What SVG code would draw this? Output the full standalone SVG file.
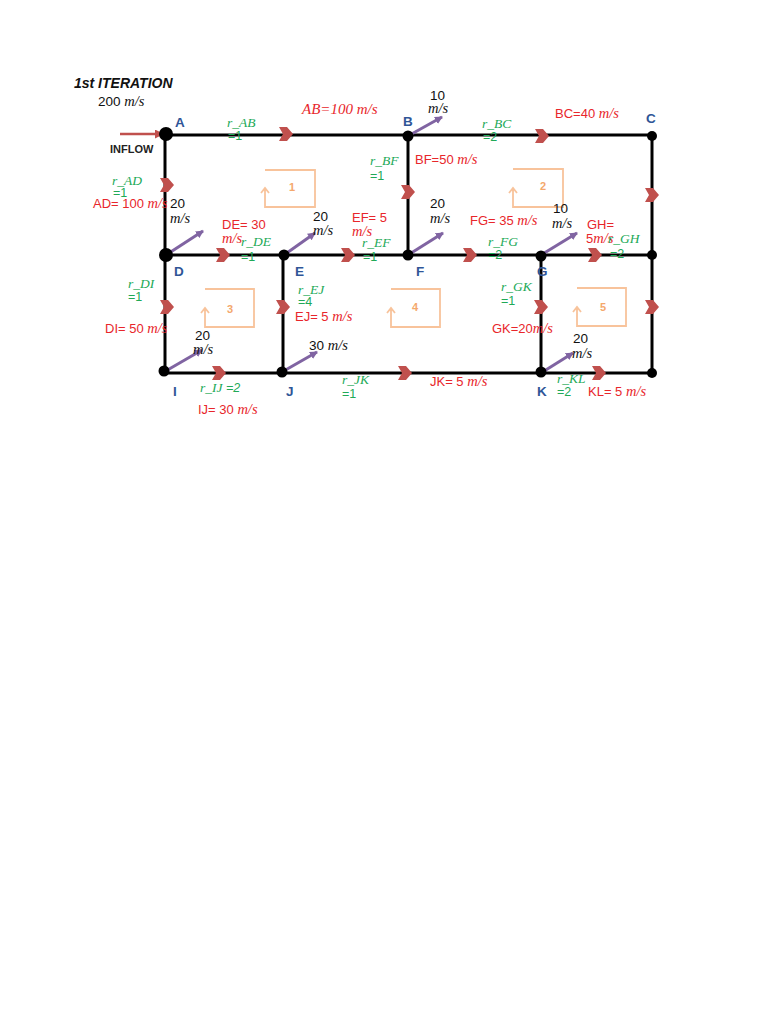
<svg xmlns="http://www.w3.org/2000/svg" width="768" height="1024" viewBox="0 0 768 1024">
<defs>
<style>
.edge{stroke:#000;stroke-width:3;fill:none}
.nd{fill:#000}
.chev{fill:#c0504d}
.flow{stroke:#8064a2;stroke-width:3;fill:none;marker-end:url(#pa)}
.loop{stroke:#f8c39b;stroke-width:1.8;fill:none}
.lnum{font-family:"Liberation Sans",Arial,sans-serif;font-weight:bold;font-size:11px;fill:#f4a86c;text-anchor:middle}
.nl{font-family:"Liberation Sans",Arial,sans-serif;font-weight:bold;font-size:13.5px;fill:#2f5597}
.r{font-family:"Liberation Serif","DejaVu Serif",serif;font-style:italic;font-size:13.5px;fill:#21a957}
.eq{font-family:"Liberation Sans",Arial,sans-serif;font-size:12.5px;fill:#21a957}
.red{font-family:"Liberation Sans",Arial,sans-serif;font-size:13px;fill:#e8262b}
.blk{font-family:"Liberation Sans",Arial,sans-serif;font-size:13.5px;fill:#111}
.mi{font-family:"Liberation Serif","DejaVu Serif",serif;font-style:italic;font-size:14.5px}
</style>
<marker id="pa" markerWidth="8" markerHeight="8" refX="7" refY="4" orient="auto" markerUnits="userSpaceOnUse">
<path d="M0,0 L8,4 L0,8 Z" fill="#8064a2"/>
</marker>
<marker id="ra" markerWidth="9" markerHeight="9" refX="8" refY="4.5" orient="auto" markerUnits="userSpaceOnUse">
<path d="M0,0 L9,4.5 L0,9 Z" fill="#c0504d"/>
</marker>
<polygon id="cv" points="-7,-7 1,-7 7,0 1,7 -7,7 -3,0"/>
</defs>
<rect width="768" height="1024" fill="#fff"/>

<text x="74" y="88" font-family="Liberation Sans,Arial,sans-serif" font-weight="bold" font-style="italic" font-size="14" fill="#111">1st ITERATION</text>
<text x="98" y="106" class="blk">200 <tspan class="mi">m/s</tspan></text>

<g id="connectors">
<path class="edge" d="M166,135 H652"/>
<path class="edge" d="M166,255 H652"/>
<path class="edge" d="M164,373 H652"/>
<path class="edge" d="M165,135 V373"/>
<path class="edge" d="M408,136 V255"/>
<path class="edge" d="M652,136 V373"/>
<path class="edge" d="M283,255 V373"/>
<path class="edge" d="M541,255 V373"/>
<line x1="120" y1="134" x2="163" y2="134" stroke="#c0504d" stroke-width="2.5" marker-end="url(#ra)"/>
<g class="chev">
<use href="#cv" x="286" y="134"/>
<use href="#cv" x="542" y="136"/>
<use href="#cv" x="167" y="185"/>
<use href="#cv" x="408" y="192"/>
<use href="#cv" x="652" y="195"/>
<use href="#cv" x="223" y="255"/>
<use href="#cv" x="348" y="255"/>
<use href="#cv" x="470" y="255"/>
<use href="#cv" x="595" y="255"/>
<use href="#cv" x="167" y="307"/>
<use href="#cv" x="283" y="307"/>
<use href="#cv" x="541" y="307"/>
<use href="#cv" x="652" y="307"/>
<use href="#cv" x="219" y="373"/>
<use href="#cv" x="405" y="373"/>
<use href="#cv" x="599" y="373"/>
</g>
<line class="flow" x1="166" y1="255" x2="203" y2="231"/>
<line class="flow" x1="408" y1="136" x2="442" y2="117"/>
<line class="flow" x1="284" y1="255" x2="315" y2="233"/>
<line class="flow" x1="408" y1="255" x2="443" y2="233"/>
<line class="flow" x1="541" y1="255" x2="577" y2="233"/>
<line class="flow" x1="164" y1="372" x2="202" y2="350"/>
<line class="flow" x1="282" y1="372" x2="317" y2="352"/>
<line class="flow" x1="541" y1="373" x2="573" y2="353"/>
</g>

<g id="loops">
<path class="loop" d="M265,170 H315 V207 H265 V188 M261,193 L265,188 L269,193"/>
<text class="lnum" x="292" y="191">1</text>
<path class="loop" d="M513,169 H563 V207 H513 V188 M509,193 L513,188 L517,193"/>
<text class="lnum" x="543" y="190">2</text>
<path class="loop" d="M205,289 H254 V327 H205 V308 M201,313 L205,308 L209,313"/>
<text class="lnum" x="230" y="313">3</text>
<path class="loop" d="M391,289 H440 V327 H391 V308 M387,313 L391,308 L395,313"/>
<text class="lnum" x="415" y="311">4</text>
<path class="loop" d="M577,288 H626 V326 H577 V307 M573,312 L577,307 L581,312"/>
<text class="lnum" x="603" y="311">5</text>
</g>

<g id="node-A"><circle class="nd" cx="166" cy="134" r="7"/><text class="nl" x="175" y="127">A</text></g>
<g id="node-B"><circle class="nd" cx="408" cy="136" r="5.5"/><text class="nl" x="403" y="126">B</text></g>
<g id="node-C"><circle class="nd" cx="652" cy="136" r="5"/><text class="nl" x="646" y="123">C</text></g>
<g id="node-D"><circle class="nd" cx="166" cy="255" r="7"/><text class="nl" x="174" y="276">D</text></g>
<g id="node-E"><circle class="nd" cx="284" cy="255" r="5.5"/><text class="nl" x="295" y="276">E</text></g>
<g id="node-F"><circle class="nd" cx="408" cy="255" r="5.5"/><text class="nl" x="416" y="276">F</text></g>
<g id="node-G"><circle class="nd" cx="541" cy="256" r="5.5"/><text class="nl" x="537" y="276">G</text></g>
<g id="node-H"><circle class="nd" cx="652" cy="255" r="5"/></g>
<g id="node-I"><circle class="nd" cx="164" cy="371" r="5.5"/><text class="nl" x="173" y="396">I</text></g>
<g id="node-J"><circle class="nd" cx="282" cy="372" r="5.5"/><text class="nl" x="286" y="396">J</text></g>
<g id="node-K"><circle class="nd" cx="541" cy="372" r="5.5"/><text class="nl" x="537" y="396">K</text></g>
<g id="node-L"><circle class="nd" cx="652" cy="373" r="5"/></g>

<g id="labels">
<text x="110" y="153" font-family="Liberation Sans,Arial,sans-serif" font-weight="bold" font-size="11" fill="#222">INFLOW</text>

<text class="r" x="227" y="127">r_AB</text><text class="eq" x="228" y="140">=1</text>
<text x="302" y="114" font-family="Liberation Serif,serif" font-style="italic" font-size="15" fill="#e8262b">AB=100 m/s</text>
<text class="blk" x="430" y="100">10</text><text class="blk" x="428" y="113"><tspan class="mi">m/s</tspan></text>
<text class="r" x="482" y="128">r_BC</text><text class="eq" x="483" y="141">=2</text>
<text class="red" x="555" y="118">BC=40 <tspan class="mi">m/s</tspan></text>

<text class="r" x="112" y="185">r_AD</text><text class="eq" x="113" y="197">=1</text>
<text class="red" x="93" y="208">AD= 100 <tspan class="mi">m/s</tspan></text>
<text class="blk" x="170" y="208">20</text><text class="blk" x="170" y="223"><tspan class="mi">m/s</tspan></text>

<text class="r" x="370" y="165">r_BF</text><text class="eq" x="370" y="180">=1</text>
<text class="red" x="415" y="164">BF=50 <tspan class="mi">m/s</tspan></text>

<text class="red" x="222" y="229">DE= 30</text><text class="red" x="222" y="243"><tspan class="mi">m/s</tspan></text>
<text class="r" x="241" y="246">r_DE</text><text class="eq" x="241" y="261">=1</text>

<text class="blk" x="313" y="221">20</text><text class="blk" x="313" y="235"><tspan class="mi">m/s</tspan></text>
<text class="red" x="352" y="222">EF= 5</text><text class="red" x="352" y="236"><tspan class="mi">m/s</tspan></text>
<text class="r" x="362" y="247">r_EF</text><text class="eq" x="363" y="261">=1</text>

<text class="blk" x="430" y="208">20</text><text class="blk" x="430" y="223"><tspan class="mi">m/s</tspan></text>
<text class="red" x="470" y="225">FG= 35 <tspan class="mi">m/s</tspan></text>
<text class="r" x="488" y="246">r_FG</text><text class="eq" x="488" y="259">=2</text>

<text class="blk" x="553" y="213">10</text><text class="blk" x="552" y="228"><tspan class="mi">m/s</tspan></text>
<text class="red" x="587" y="229">GH=</text><text class="red" x="586" y="243">5<tspan class="mi">m/s</tspan></text>
<text class="r" x="608" y="243">r_GH</text><text class="eq" x="610" y="258">=2</text>

<text class="r" x="128" y="288">r_DI</text><text class="eq" x="128" y="301">=1</text>
<text class="red" x="105" y="333">DI= 50 <tspan class="mi">m/s</tspan></text>
<text class="blk" x="195" y="340">20</text><text class="blk" x="193" y="354"><tspan class="mi">m/s</tspan></text>

<text class="r" x="298" y="294">r_EJ</text><text class="eq" x="298" y="306">=4</text>
<text class="red" x="295" y="321">EJ= 5 <tspan class="mi">m/s</tspan></text>
<text class="blk" x="309" y="350">30 <tspan class="mi">m/s</tspan></text>

<text class="r" x="501" y="291">r_GK</text><text class="eq" x="501" y="305">=1</text>
<text class="red" x="492" y="333">GK=20<tspan class="mi">m/s</tspan></text>
<text class="blk" x="573" y="343">20</text><text class="blk" x="572" y="358"><tspan class="mi">m/s</tspan></text>

<text class="r" x="200" y="392">r_IJ <tspan class="eq">=2</tspan></text>
<text class="red" x="198" y="414">IJ= 30 <tspan class="mi">m/s</tspan></text>
<text class="r" x="342" y="384">r_JK</text><text class="eq" x="342" y="398">=1</text>
<text class="red" x="430" y="386">JK= 5 <tspan class="mi">m/s</tspan></text>
<text class="r" x="557" y="383">r_KL</text><text class="eq" x="557" y="396">=2</text>
<text class="red" x="588" y="396">KL= 5 <tspan class="mi">m/s</tspan></text>
</g>
</svg>
